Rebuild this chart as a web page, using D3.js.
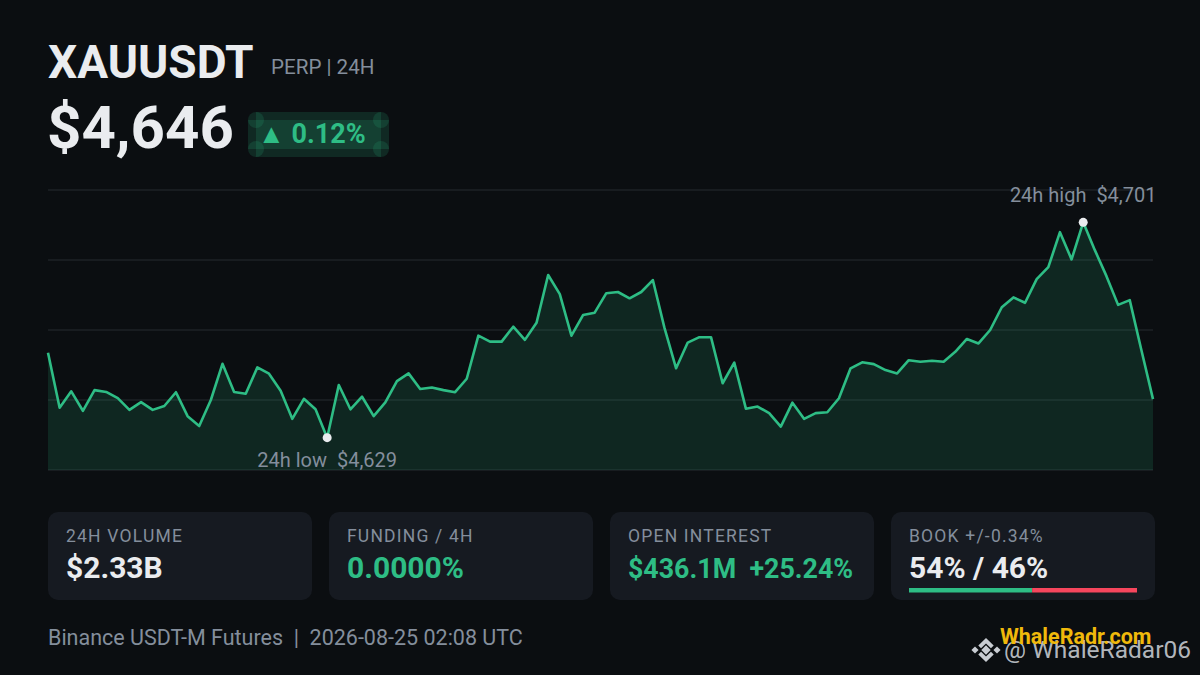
<!DOCTYPE html>
<meta charset="utf-8">
<style>
html, body {
  margin: 0;
  background: #0b0e11;
}

svg {
  display: block;
  font-family: Roboto, "Noto Sans", sans-serif;
}

.grid line {
  stroke: #262a31;
  stroke-width: 1.2;
}

.area {
  fill: rgba(46, 189, 133, 0.14);
}

.price-line {
  fill: none;
  stroke: #2ebd85;
  stroke-width: 2.6;
  stroke-linejoin: round;
}

.muted {
  fill: #848e9c;
}

.card rect.bg {
  fill: #161a21;
}
</style>
<body>
<svg class="chart"></svg>

<script src="https://d3js.org/d3.v7.min.js"></script>
<script type="text/javascript">
"use strict";

// 24h price samples
var prices = [
  4657.4, 4639.0, 4644.5, 4638.0, 4644.9, 4644.3, 4642.2, 4638.3, 4640.9, 4638.3,
  4639.6, 4644.2, 4636.2, 4632.9, 4641.6, 4653.7, 4644.3, 4643.7, 4652.5, 4650.4,
  4644.7, 4635.3, 4642.0, 4638.5, 4629.0, 4646.6, 4638.5, 4642.7, 4636.2, 4640.8,
  4647.9, 4650.5, 4645.3, 4645.8, 4644.9, 4644.2, 4648.7, 4663.1, 4661.1, 4661.1,
  4666.1, 4661.7, 4667.4, 4683.4, 4677.0, 4663.1, 4670.0, 4670.8, 4677.3, 4677.7,
  4675.6, 4677.7, 4681.7, 4665.7, 4652.2, 4660.8, 4662.6, 4662.6, 4647.2, 4654.1,
  4638.7, 4639.4, 4637.2, 4632.7, 4640.7, 4635.3, 4637.2, 4637.5, 4642.2, 4652.2,
  4654.2, 4653.6, 4651.6, 4650.5, 4654.9, 4654.4, 4654.7, 4654.4, 4657.7, 4662.0,
  4660.5, 4665.0, 4672.6, 4675.9, 4674.1, 4682.0, 4686.0, 4697.7, 4688.6, 4701.0,
  4691.7, 4683.0, 4673.4, 4675.0, 4658.3, 4641.9
];

var symbol = "XAUUSDT",
  subtitle = "PERP | 24H",
  lastPrice = "$4,646",
  change = "\u25B2 0.12%";

var cardLabels = ["24H VOLUME", "FUNDING / 4H", "OPEN INTEREST", "BOOK +/-0.34%"];
var cardValues = ["$2.33B", "0.0000%", "$436.1M\u00A0\u00A0+25.24%", "54% / 46%"];
var cardColors = ["#eaecef", "#2ebd85", "#2ebd85", "#eaecef"];
var cardValueSizes = [30, 30, 26.8, 30];
var bookSplit = [54, 46];

var footer = "Binance USDT-M Futures\u00A0\u00A0|\u00A0\u00A02026-08-25 02:08 UTC";

var W = 1200, H = 675,
  plot = { left: 48, right: 1153, top: 190, bottom: 470 },
  green = "#2ebd85",
  red = "#f6465d",
  white = "#eaecef";

var svg = d3.select(".chart")
  .attr("width", W)
  .attr("height", H)
  .attr("viewBox", "0 0 " + W + " " + H);

svg.append("rect").attr("width", W).attr("height", H).attr("fill", "#0b0e11");

// header
svg.append("text")
  .attr("x", 48).attr("y", 78)
  .attr("font-size", 46).attr("font-weight", 700)
  .attr("fill", white)
  .text(symbol);

svg.append("text")
  .attr("class", "muted")
  .attr("x", 271).attr("y", 74)
  .attr("font-size", 20.6)
  .text(subtitle);

svg.append("text")
  .attr("x", 47).attr("y", 148)
  .attr("font-size", 60).attr("font-weight", 700)
  .attr("fill", white)
  .text(lastPrice);

// change badge (overlapping translucent pieces, like the original)
var badge = { x: 248, y: 112, w: 141, h: 45, r: 8 };
var bg = svg.append("g").attr("fill", green).attr("fill-opacity", 0.16);
bg.append("rect")
  .attr("x", badge.x + badge.r).attr("y", badge.y)
  .attr("width", badge.w - 2 * badge.r).attr("height", badge.h);
bg.append("rect")
  .attr("x", badge.x).attr("y", badge.y + badge.r)
  .attr("width", badge.w).attr("height", badge.h - 2 * badge.r);
[[0, 0], [1, 0], [0, 1], [1, 1]].forEach(function (c) {
  bg.append("circle")
    .attr("cx", badge.x + badge.r + c[0] * (badge.w - 2 * badge.r))
    .attr("cy", badge.y + badge.r + c[1] * (badge.h - 2 * badge.r))
    .attr("r", badge.r);
});
svg.append("text")
  .attr("x", badge.x + 10).attr("y", 143)
  .attr("font-size", 27).attr("font-weight", 700)
  .attr("fill", green)
  .text(change);

// price chart
var lo = d3.min(prices), hi = d3.max(prices), pad = (hi - lo) * 0.15;

var x = d3.scaleLinear()
  .domain([0, prices.length - 1])
  .range([plot.left, plot.right]);

var y = d3.scaleLinear()
  .domain([lo - pad, hi + pad])
  .range([plot.bottom, plot.top]);

var gridValues = d3.range(5).map(function (i) {
  return y.domain()[0] + i * (y.domain()[1] - y.domain()[0]) / 4;
});

svg.append("g")
  .attr("class", "grid")
  .selectAll("line")
  .data(gridValues)
  .join("line")
  .attr("x1", plot.left).attr("x2", plot.right)
  .attr("y1", function (d) { return y(d); })
  .attr("y2", function (d) { return y(d); });

svg.append("path")
  .datum(prices)
  .attr("class", "area")
  .attr("d", d3.area()
    .x(function (d, i) { return x(i); })
    .y0(plot.bottom)
    .y1(function (d) { return y(d); }));

svg.append("path")
  .datum(prices)
  .attr("class", "price-line")
  .attr("d", d3.line()
    .x(function (d, i) { return x(i); })
    .y(function (d) { return y(d); }));

var fmt = d3.format(",.0f");
var extremes = [
  { i: prices.indexOf(hi), v: hi, label: "24h high", dy: -20 },
  { i: prices.indexOf(lo), v: lo, label: "24h low", dy: 29 }
];

svg.selectAll(".marker")
  .data(extremes)
  .join("circle")
  .attr("class", "marker")
  .attr("cx", function (d) { return x(d.i); })
  .attr("cy", function (d) { return y(d.v); })
  .attr("r", 4.5)
  .attr("fill", white);

svg.selectAll(".extreme-label")
  .data(extremes)
  .join("text")
  .attr("class", "extreme-label muted")
  .attr("x", function (d) { return x(d.i); })
  .attr("y", function (d) { return y(d.v) + d.dy; })
  .attr("text-anchor", "middle")
  .attr("font-size", 20)
  .text(function (d) { return d.label + "\u00A0\u00A0$" + fmt(d.v); });

// stat cards
var cardW = 264, cardGap = 17, cardY = 512, cardH = 88;

var cards = svg.selectAll(".card")
  .data(cardLabels)
  .join("g")
  .attr("class", "card")
  .attr("transform", function (d, i) {
    return "translate(" + (48 + i * (cardW + cardGap)) + "," + cardY + ")";
  });

cards.append("rect")
  .attr("class", "bg")
  .attr("width", cardW).attr("height", cardH)
  .attr("rx", 10);

cards.append("text")
  .attr("class", "muted")
  .attr("x", 18).attr("y", 30)
  .attr("font-size", 17.5)
  .attr("letter-spacing", 1.2)
  .text(function (d) { return d; });

cards.append("text")
  .attr("x", 18).attr("y", 66)
  .attr("font-size", function (d, i) { return cardValueSizes[i]; })
  .attr("font-weight", 700)
  .attr("fill", function (d, i) { return cardColors[i]; })
  .text(function (d, i) { return cardValues[i]; });

// order book imbalance bar
var bookX = d3.scaleLinear()
  .domain([0, d3.sum(bookSplit)])
  .range([0, 228]);

var book = d3.select(cards.nodes()[3]);
book.selectAll(".book")
  .data([
    { start: 0, end: bookSplit[0], color: green },
    { start: bookSplit[0], end: bookSplit[0] + bookSplit[1], color: red }
  ])
  .join("rect")
  .attr("class", "book")
  .attr("x", function (d) { return 18 + bookX(d.start); })
  .attr("y", 76)
  .attr("width", function (d) { return bookX(d.end) - bookX(d.start); })
  .attr("height", 4.5)
  .attr("fill", function (d) { return d.color; });

// footer
svg.append("text")
  .attr("class", "muted")
  .attr("x", 48).attr("y", 645)
  .attr("font-size", 21.5)
  .text(footer);

// watermark
var logo = svg.append("g")
  .attr("transform", "translate(986,650) scale(1.1)")
  .attr("fill", "#c9cdd3");
logo.append("rect").attr("x", -3).attr("y", -3).attr("width", 6).attr("height", 6)
  .attr("transform", "rotate(45)");
logo.append("rect").attr("x", -2.3).attr("y", -2.3).attr("width", 4.6).attr("height", 4.6)
  .attr("transform", "translate(-10,0) rotate(45)");
logo.append("rect").attr("x", -2.3).attr("y", -2.3).attr("width", 4.6).attr("height", 4.6)
  .attr("transform", "translate(10,0) rotate(45)");
logo.append("path").attr("d", "M-7,-4 L0,-11 L7,-4 L4.5,-1.5 L0,-6 L-4.5,-1.5 Z");
logo.append("path").attr("d", "M-7,4 L0,11 L7,4 L4.5,1.5 L0,6 L-4.5,1.5 Z");

svg.append("text")
  .attr("x", 1004).attr("y", 658)
  .attr("font-size", 24.5)
  .attr("fill", "#c9cdd3")
  .attr("fill-opacity", 0.9)
  .text("@ WhaleRadar06");

svg.append("text")
  .attr("x", 1000).attr("y", 644)
  .attr("font-size", 21.5).attr("font-weight", 700)
  .attr("fill", "#f0b90b")
  .text("WhaleRadr.com");
</script>
</body>
